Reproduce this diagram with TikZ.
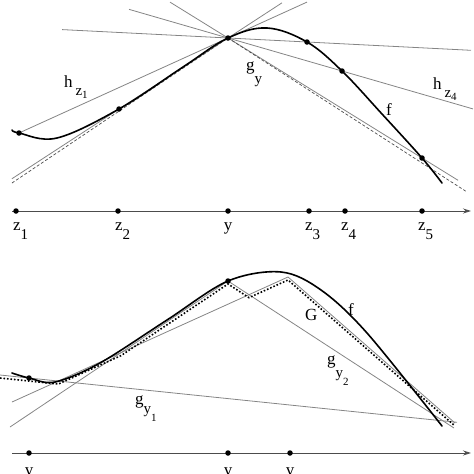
\documentclass[tikz,border=0pt]{standalone}
\usepackage{fontspec}
\setmainfont{Liberation Serif}
\usetikzlibrary{arrows.meta,calc}
\newcommand\Fbig{\fontsize{17}{19}\selectfont}
\newcommand\Fsub{\fontsize{15}{17}\selectfont}
\newcommand\Fss{\fontsize{11}{13}\selectfont}
\newcommand\dn[2]{\raisebox{-#1pt}{#2}}
\begin{document}
\begin{tikzpicture}[x=1pt,y=-1pt,
  fcurve/.style={line width=1.6pt, black, line cap=round},
  thinline/.style={line width=0.8pt, black!48},
  gdash/.style={line width=0.7pt, black!70, dash pattern=on 3pt off 2pt},
  gdot/.style={line width=1.6pt, black, dash pattern=on 1.6pt off 1.9pt},
  axisline/.style={line width=0.8pt, black!70, -{Stealth[length=8pt,width=5pt]}},
  pt/.style={circle, fill=black, inner sep=0pt, minimum size=5.5pt},
  lbl/.style={font=\Fbig, inner sep=0pt, anchor=base west},
  albl/.style={font=\Fbig, inner sep=0pt, anchor=base west}]
\useasboundingbox (0,0) rectangle (474,474);

% ================= TOP PANEL =================
\coordinate (pz1) at (19,133);
\coordinate (pz2) at (119,109);
\coordinate (pY)  at (228,38);
\coordinate (pz3) at (307,42);
\coordinate (pz4) at (342,71);
\coordinate (pz5) at (422,158);

% secant lines h_z through y
\coordinate (h1e) at ($(pz1)!1.378!(pY)$);
\coordinate (h2a) at ($(pY)!1.982!(pz2)$);
\coordinate (h2e) at ($(pz2)!1.4954!(pY)$);
\coordinate (h3a) at ($(pz3)!3.101!(pY)$);
\coordinate (h3e) at ($(pY)!3.076!(pz3)$);
\coordinate (h4a) at ($(pz4)!1.868!(pY)$);
\coordinate (h4e) at ($(pY)!2.149!(pz4)$);
\coordinate (h5a) at ($(pz5)!1.299!(pY)$);
\coordinate (h5e) at ($(pY)!1.186!(pz5)$);
\coordinate (gya) at (12,183);
\coordinate (gye) at (467,192);

\draw[thinline] (pz1) -- (h1e);
\draw[thinline] (h2a) -- (h2e);
\draw[thinline] (h3a) -- (h3e);
\draw[thinline] (h4a) -- (h4e);
\draw[thinline] (h5a) -- (h5e);
\draw[gdash] (gya) -- (pY) -- (gye);

\draw[fcurve] plot[smooth, tension=0.6] coordinates {(12,130) (19,133) (57,138) (119,109) (183,67) (228,38) (267,28) (307,42) (342,71) (382,114) (422,158) (442,183)};

\foreach \p in {pz1,pz2,pY,pz3,pz4,pz5} \node[pt] at (\p) {};

\node[lbl] (lh1) at (64,87) {h\,\dn{8}{\Fsub z\dn{3}{\Fss 1}}};
\node[lbl] (lgy) at (246,70) {g\dn{13}{\Fsub y}};
\node[lbl] (lh4) at (433,89) {h\,\dn{8}{\Fsub z\dn{3}{\Fss 4}}};
\node[lbl] (lf1) at (386,115) {f};

% top axis
\coordinate (ta0) at (12,211);
\coordinate (ta1) at (471,211);
\draw[axisline] (ta0) -- (ta1);
\node[pt] (a1) at (16,211) {};
\node[pt] (a2) at (118,211) {};
\node[pt] (a3) at (228,211) {};
\node[pt] (a4) at (309,211) {};
\node[pt] (a5) at (345,211) {};
\node[pt] (a6) at (422,211) {};
\node[albl] at (13,230) {z\dn{9}{\Fsub 1}};
\node[albl] at (115,230) {z\dn{9}{\Fsub 2}};
\node[albl, anchor=base] at (228,230) {y};
\node[albl] at (305,230) {z\dn{9}{\Fsub 3}};
\node[albl] at (341,230) {z\dn{9}{\Fsub 4}};
\node[albl] at (418,230) {z\dn{9}{\Fsub 5}};

% ================= BOTTOM PANEL =================
\coordinate (pY1) at (29,378);
\coordinate (pYb) at (228,281);
\coordinate (V2)  at (288,277);
\coordinate (g1a) at (0,375);
\coordinate (g1b) at (457,422.3);
\coordinate (Da)  at (10,427);
\coordinate (Be)  at (454,428);
\coordinate (Aa)  at (12,402);
\coordinate (Ee)  at (455,423);

\draw[thinline] (g1a) -- (g1b);
\draw[thinline] (Da) -- (pYb) -- (Be);
\draw[thinline] (Aa) -- (V2) -- (Ee);

% upper envelope G
\coordinate (I1) at (intersection of g1a--g1b and Aa--V2);
\coordinate (I2) at (intersection of Aa--V2 and Da--pYb);
\coordinate (I3) at (intersection of pYb--Be and Aa--V2);
\draw[gdot] ([yshift=-3pt]g1a) -- ([yshift=-3pt]I1) -- ([yshift=-3pt]I2) -- ([yshift=-3pt]pYb) -- ([yshift=-3pt]I3) -- ([yshift=-3pt]V2) -- ([yshift=-3pt]Ee);

\draw[fcurve] plot[smooth, tension=0.55] coordinates {(12,373) (29,378) (55,382) (100,363) (167,320) (228,281) (281,272) (321,290) (367,333) (442,426)};

\node[pt] at (pY1) {};
\node[pt] at (pYb) {};

\node[lbl] (lg1) at (135,404) {g\dn{9}{\Fsub y\dn{8}{\Fss 1}}};
\node[lbl] (lG)  at (305,320) {G};
\node[lbl] (lf2) at (348,315) {f};
\node[lbl] (lg2) at (327,364) {g\dn{13}{\Fsub y\dn{8}{\Fss 2}}};

% bottom axis
\coordinate (ba0) at (12,453);
\coordinate (ba1) at (471,453);
\draw[axisline] (ba0) -- (ba1);
\node[pt] (b1) at (29,453) {};
\node[pt] (b2) at (228,453) {};
\node[pt] (b3) at (290,453) {};
\node[albl, anchor=base] at (29,475) {y};
\node[albl, anchor=base] at (228,475) {y};
\node[albl, anchor=base] at (290,475) {y};
\end{tikzpicture}
\end{document}
